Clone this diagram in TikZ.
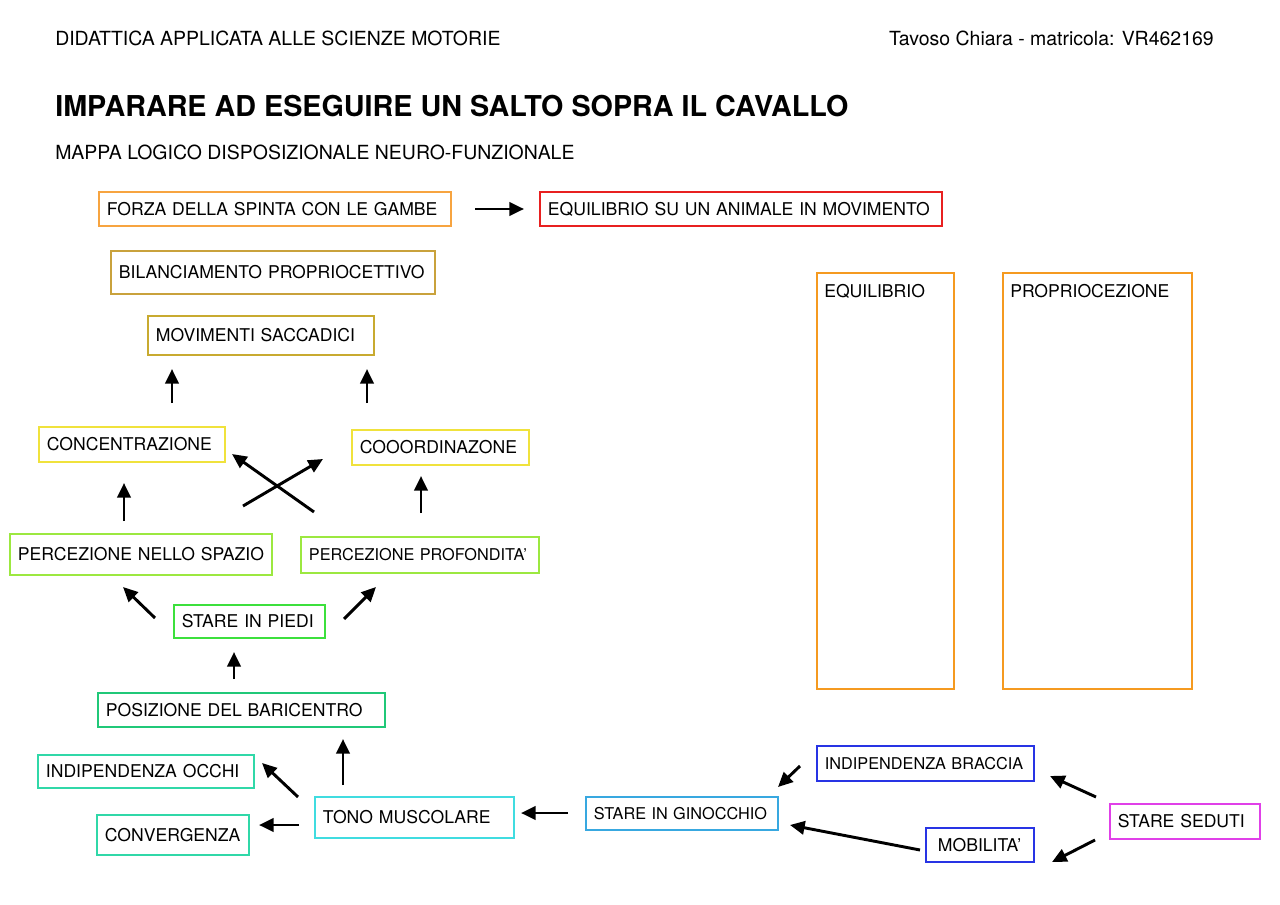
\documentclass[tikz,border=0pt]{standalone}
\usepackage{fontspec}
\setmainfont{TeX Gyre Heros}
\usetikzlibrary{arrows.meta}
\definecolor{borange}{HTML}{F7A440}
\definecolor{bred}{HTML}{E82020}
\definecolor{bgold}{HTML}{C9A23C}
\definecolor{bolive}{HTML}{C8AA30}
\definecolor{byellow}{HTML}{F0E23C}
\definecolor{blime}{HTML}{9CE840}
\definecolor{bgreen}{HTML}{3CE03C}
\definecolor{bgteal}{HTML}{20C878}
\definecolor{bteal}{HTML}{30D8A8}
\definecolor{bcyan}{HTML}{40DCE0}
\definecolor{bsky}{HTML}{38A8E0}
\definecolor{bblue}{HTML}{2834E4}
\definecolor{bmag}{HTML}{E040E8}
\definecolor{bbigor}{HTML}{F59A20}
\newcommand\boxnode[8][]{%
  \pgfmathsetlengthmacro\bw{(#5-#3-16)*0.75}%
  \pgfmathsetlengthmacro\bh{(#6-#4)*0.75}%
  \node[bx, draw=#7, text width=\bw, minimum height=\bh, #1] (#2) at (#3,#4) {\mbox{#8}};}
\begin{document}
\begin{tikzpicture}[x=0.75pt,y=-0.75pt,
  bx/.style={rectangle, anchor=north west, line width=1.4pt, inner xsep=6pt, inner ysep=0pt, align=left, font=\fontsize{13.2pt}{15pt}\selectfont},
  small/.style={font=\fontsize{12.2pt}{14pt}\selectfont},
  lbl/.style={inner sep=0pt, font=\fontsize{13.2pt}{15pt}\selectfont},
  hlbl/.style={inner sep=0pt, font=\fontsize{14.6pt}{17pt}\selectfont},
  arr/.style={line width=2.2pt, -{Triangle[length=11pt,width=10pt]}}]
\useasboundingbox[fill=white] (0,0) rectangle (1280,905);
% header
\node[hlbl, anchor=base west] (hdr) at (55,46) {DIDATTICA APPLICATA ALLE SCIENZE MOTORIE};
\node[hlbl, anchor=base east] (auth) at (1214,46) {Tavoso Chiara - matricola: VR462169};
\node[inner sep=0pt, anchor=base west, font=\fontsize{21.55pt}{24pt}\selectfont\bfseries] (title) at (55,117) {IMPARARE AD ESEGUIRE UN SALTO SOPRA IL CAVALLO};
\node[hlbl, anchor=base west] (sub) at (55,160) {MAPPA LOGICO DISPOSIZIONALE NEURO-FUNZIONALE};
% boxes
\boxnode{forza}{98}{191}{450}{225}{borange}{FORZA DELLA SPINTA CON LE GAMBE}
\boxnode{eqanim}{539}{191}{941}{225}{bred}{EQUILIBRIO SU UN ANIMALE IN MOVIMENTO}
\boxnode{bilan}{110}{250}{434}{293}{bgold}{BILANCIAMENTO PROPRIOCETTIVO}
\boxnode{movim}{147}{315}{373}{354}{bolive}{MOVIMENTI SACCADICI}
\boxnode{conc}{38}{426}{224}{461}{byellow}{CONCENTRAZIONE}
\boxnode{coord}{351}{429}{528}{464}{byellow}{COOORDINAZONE}
\boxnode{perspaz}{9}{533}{271}{574}{blime}{PERCEZIONE NELLO SPAZIO}
\boxnode[small]{perprof}{300}{536}{538}{572}{blime}{PERCEZIONE PROFONDITA’}
\boxnode{piedi}{173}{604}{324}{637}{bgreen}{STARE IN PIEDI}
\boxnode{baric}{97}{692}{384}{726}{bgteal}{POSIZIONE DEL BARICENTRO}
\boxnode{occhi}{37}{754}{253}{787}{bteal}{INDIPENDENZA OCCHI}
\boxnode{conv}{96}{814}{248}{854}{bteal}{CONVERGENZA}
\boxnode{tono}{314}{796}{513}{837}{bcyan}{TONO MUSCOLARE}
\boxnode[small]{ginoc}{585}{796}{777}{829}{bsky}{STARE IN GINOCCHIO}
\boxnode[small]{braccia}{816}{745}{1033}{780}{bblue}{INDIPENDENZA BRACCIA}
\boxnode{mobil}{925}{827}{1033}{861}{bblue}{\hspace*{3pt}MOBILITA’}
\boxnode{seduti}{1109}{803}{1259}{838}{bmag}{STARE SEDUTI}
% tall boxes
\node[bx, draw=bbigor, minimum width=137*0.75pt, minimum height=416*0.75pt] (eqbox) at (816,272) {};
\node[lbl, anchor=base west] (equil) at (824,298) {EQUILIBRIO};
\node[bx, draw=bbigor, minimum width=189*0.75pt, minimum height=416*0.75pt] (prbox) at (1002,272) {};
\node[lbl, anchor=base west] (propr) at (1010,298) {PROPRIOCEZIONE};
% arrow coordinates
\coordinate (a1t) at (475,209); \coordinate (a1h) at (524,209);
\coordinate (a2t) at (172,403); \coordinate (a2h) at (172,369);
\coordinate (a3t) at (367,403); \coordinate (a3h) at (367,369);
\coordinate (a4t) at (124,521); \coordinate (a4h) at (124,483);
\coordinate (a5t) at (421,513); \coordinate (a5h) at (421,476);
\coordinate (a6t) at (243,506); \coordinate (a6h) at (323,459);
\coordinate (a7t) at (314,512); \coordinate (a7h) at (232,454);
\coordinate (a8t) at (155,618); \coordinate (a8h) at (123,587);
\coordinate (a9t) at (344,619); \coordinate (a9h) at (376,587);
\coordinate (a10t) at (234,679); \coordinate (a10h) at (234,652);
\coordinate (a11t) at (343,785); \coordinate (a11h) at (343,739);
\coordinate (a12t) at (298,797); \coordinate (a12h) at (262,763);
\coordinate (a13t) at (299,825); \coordinate (a13h) at (259,825);
\coordinate (a14t) at (568,813); \coordinate (a14h) at (521,813);
\coordinate (a15t) at (800,766); \coordinate (a15h) at (778,787);
\coordinate (a16t) at (920,850); \coordinate (a16h) at (790,825);
\coordinate (a17t) at (1096,797); \coordinate (a17h) at (1050,776);
\coordinate (a18t) at (1095,840); \coordinate (a18h) at (1052,862);
\foreach \i in {1,...,18} {\draw[arr] (a\i t) -- (a\i h);}
\end{tikzpicture}
\end{document}
